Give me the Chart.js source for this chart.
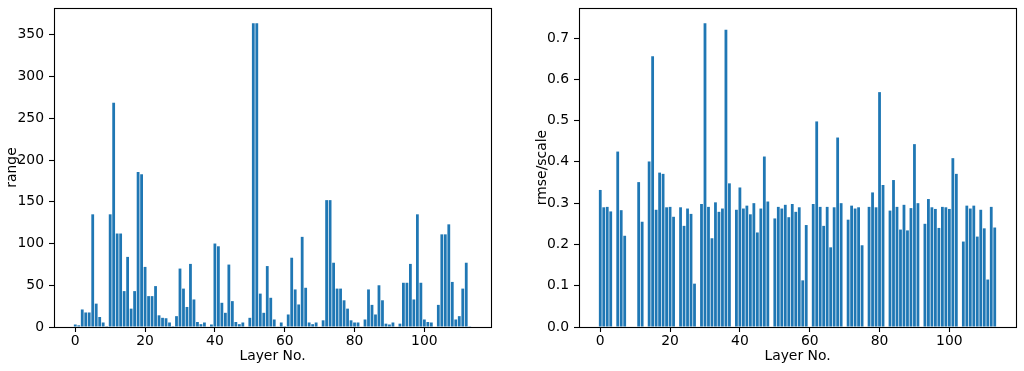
<!DOCTYPE html>
<html><head><meta charset="utf-8">
<script src="https://cdn.jsdelivr.net/npm/chart.js@4.4.1/dist/chart.umd.min.js"></script>
<style>
html,body{margin:0;padding:0;background:#fff;width:1024px;height:371px;overflow:hidden}
canvas{position:absolute;top:0}
#c1{left:0}
#c2{left:512px}
</style></head><body>
<canvas id="c1" width="512" height="371"></canvas>
<canvas id="c2" width="512" height="371"></canvas>
<script>
// ---- data ----
const layers = [0,1,2,3,4,5,6,7,8,9,10,11,12,13,14,15,16,17,18,19,20,21,22,23,24,25,26,27,28,29,30,31,32,33,34,35,36,37,38,39,40,41,42,43,44,45,46,47,48,49,50,51,52,53,54,55,56,57,58,59,60,61,62,63,64,65,66,67,68,69,70,71,72,73,74,75,76,77,78,79,80,81,82,83,84,85,86,87,88,89,90,91,92,93,94,95,96,97,98,99,100,101,102,103,104,105,106,107,108,109,110,111,112,113];
const rangeValues = [
  3,2,21,17.4,17.4,135,28,12,5.4,1,
  135,268.7,112,112,43,84,22,43,185.7,183,
  72,37,37,49,14,11,10.5,5.4,1,13,
  70,46,24,75.6,33,6,3.4,5.4,0.6,3,
  100,96.7,29,17,74.8,31,6,3.4,5.4,0.6,
  11,364,364,40,17,73,35,9,0.5,5.4,
  1,15,83,45,27,108,47,5.4,3.4,5.4,
  0.6,8,152,152,77,46,46,32,22,8,
  5.4,5.4,0.6,9,45,26.5,15,50,32,4,
  3,5.4,0.6,4,53,53,75.6,33,135,53,
  9,6,5.4,0.6,26.5,111,111,123,54,9,
  13,46,77,0.3
];
const rmseValues = [
  0.332,0.290,0.291,0.280,null,0.425,0.283,0.221,null,null,
  null,0.351,0.255,null,0.401,0.656,0.284,0.374,0.371,0.290,
  0.291,0.267,null,0.290,0.245,0.287,0.274,0.105,null,0.298,
  0.736,0.291,0.215,0.302,0.279,0.287,0.720,0.348,null,0.284,
  0.338,0.287,0.294,0.273,0.300,0.229,0.287,0.413,0.304,null,
  0.263,0.291,0.287,0.296,0.266,0.298,0.279,0.290,0.113,0.247,
  null,0.298,0.498,0.291,0.245,0.291,0.193,0.290,0.459,0.300,
  null,0.260,0.294,0.287,0.290,0.198,null,0.291,0.326,0.290,
  0.569,0.344,null,0.282,0.356,0.291,0.236,0.296,0.234,0.288,
  0.443,0.300,null,0.250,0.310,0.290,0.286,0.240,0.291,0.290,
  0.286,0.409,0.371,null,0.207,0.294,0.287,0.294,0.219,0.284,
  0.239,0.115,0.291,0.241
];
const xTicks = [0,20,40,60,80,100];
const rangeTicks = [0,50,100,150,200,250,300,350];
const rmseTicks = [0,0.1,0.2,0.3,0.4,0.5,0.6,0.7];
const xTitle = 'Layer No.';
const rangeTitle = 'range';
const rmseTitle = 'rmse/scale';

// ---- chart setup ----
Chart.defaults.font.family = "'DejaVu Sans', sans-serif";
Chart.defaults.font.size = 13.9;
Chart.defaults.color = '#000';

const BAR_W = 0.8;
const xMinVal = layers[0] - BAR_W/2;
const xMaxVal = layers[layers.length-1] + BAR_W/2;
const xMargin = (xMaxVal - xMinVal) * 0.05;

const frame = {
  id: 'frame',
  afterDraw(chart) {
    const {ctx, chartArea: a} = chart;
    ctx.save();
    ctx.strokeStyle = '#000';
    ctx.lineWidth = 1.1;
    const l = Math.round(a.left) + 0.5, t = Math.round(a.top) + 0.5;
    const r = Math.round(a.right) + 0.5, b = Math.round(a.bottom) + 0.5;
    ctx.strokeRect(l, t, r - l, b - t);
    ctx.restore();
  }
};

function makeChart(id, values, yTicks, yTitle, yAxisWidth, rightPad, titlePadTop, fmt) {
  const maxV = Math.max(...values.filter(v => v !== null));
  new Chart(document.getElementById(id), {
    type: 'bar',
    data: {
      datasets: [{
        data: values.map((v, i) => ({x: layers[i], y: v})),
        backgroundColor: '#1f77b4',
        borderWidth: 0,
        barPercentage: BAR_W,
        categoryPercentage: 1.0
      }]
    },
    options: {
      responsive: false,
      animation: false,
      devicePixelRatio: 1,
      layout: {padding: {top: 8, right: rightPad, bottom: 0, left: 0}},
      plugins: {legend: {display: false}, tooltip: {enabled: false}},
      scales: {
        x: {
          type: 'linear',
          offset: false,
          min: xMinVal - xMargin,
          max: xMaxVal + xMargin,
          afterBuildTicks: s => { s.ticks = xTicks.map(v => ({value: v})); },
          afterFit: s => { s.height = 44; s.paddingLeft = 0; s.paddingRight = 0; },
          grid: {offset: false, drawOnChartArea: false, drawTicks: true, tickLength: 5, tickColor: '#000', tickWidth: 1.1},
          border: {display: false},
          ticks: {padding: 1, maxRotation: 0, autoSkip: false, callback: v => String(v)},
          title: {display: true, text: xTitle, padding: {top: 0, bottom: 6}}
        },
        y: {
          min: 0,
          max: maxV * 1.05,
          afterBuildTicks: s => { s.ticks = yTicks.map(v => ({value: v})); },
          afterFit: s => { s.width = yAxisWidth; s.paddingTop = 0; s.paddingBottom = 0; },
          grid: {offset: false, drawOnChartArea: false, drawTicks: true, tickLength: 5, tickColor: '#000', tickWidth: 1.1},
          border: {display: false},
          ticks: {padding: 5, autoSkip: false, callback: fmt},
          title: {display: true, text: yTitle, padding: {top: titlePadTop, bottom: 0}}
        }
      }
    },
    plugins: [frame]
  });
}

makeChart('c1', rangeValues, rangeTicks, rangeTitle, 54, 21, 4, v => String(v));
makeChart('c2', rmseValues, rmseTicks, rmseTitle, 67, 8, 22, v => v.toFixed(1));
</script>
</body></html>
